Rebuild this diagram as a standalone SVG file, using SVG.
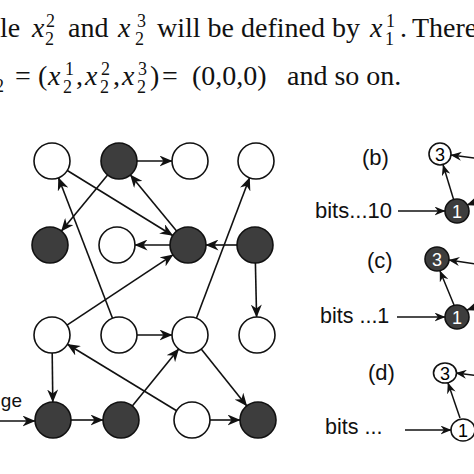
<svg xmlns="http://www.w3.org/2000/svg" width="474" height="474" viewBox="0 0 474 474">
<style>
.t{font-family:"Liberation Serif","Times New Roman",serif;font-size:28px;fill:#111}
.it{font-style:italic}
.s{font-size:18px}
.sans{font-family:"Liberation Sans",Arial,sans-serif;fill:#111}
.w{fill:#fff;stroke:#111;stroke-width:1.6}
.d{fill:#3d3d3d;stroke:#111;stroke-width:1.6}
.e{stroke:#111;stroke-width:1.6;fill:none;marker-end:url(#ah)}
.es{stroke:#111;stroke-width:1.5;fill:none;marker-end:url(#as)}
.nl{font-family:"Liberation Sans",Arial,sans-serif;font-size:18px;text-anchor:middle}
</style>
<defs>
<marker id="ah" viewBox="0 0 13 11" markerWidth="13" markerHeight="11" refX="12.5" refY="5.5" orient="auto" markerUnits="userSpaceOnUse"><path d="M0,0 L13,5.5 L0,11 L4,5.5 Z" fill="#111"/></marker>
<marker id="as" viewBox="0 0 11 9" markerWidth="11" markerHeight="9" refX="10.5" refY="4.5" orient="auto" markerUnits="userSpaceOnUse"><path d="M0,0 L11,4.5 L0,9 L3.5,4.5 Z" fill="#111"/></marker>
</defs>
<rect width="474" height="474" fill="#fff"/>

<g id="text-top">
<text class="t" x="0" y="37">le</text>
<text class="t it" x="32" y="37">x</text><text class="t s" x="46" y="27">2</text><text class="t s" x="45" y="45">2</text>
<text class="t" x="68" y="37">and</text>
<text class="t it" x="118" y="37">x</text><text class="t s" x="137" y="27">3</text><text class="t s" x="135" y="45">2</text>
<text class="t" x="157" y="37">will be defined by</text>
<text class="t it" x="370" y="37">x</text><text class="t s" x="386" y="27">1</text><text class="t s" x="385" y="45">1</text>
<text class="t" x="400" y="37">.</text>
<text class="t" x="412" y="37">There</text>

<text class="t s" x="-5" y="92">2</text>
<text class="t" x="15" y="85">=</text>
<text class="t" x="38" y="85">(</text>
<text class="t it" x="48" y="85">x</text><text class="t s" x="65" y="75">1</text><text class="t s" x="63" y="93">2</text>
<text class="t" x="76" y="85">,</text>
<text class="t it" x="85" y="85">x</text><text class="t s" x="101" y="75">2</text><text class="t s" x="100" y="93">2</text>
<text class="t" x="113" y="85">,</text>
<text class="t it" x="122" y="85">x</text><text class="t s" x="138" y="75">3</text><text class="t s" x="137" y="93">2</text>
<text class="t" x="150" y="85">)</text>
<text class="t" x="162" y="85">=</text>
<text class="t" x="192" y="85">(0,0,0)</text>
<text class="t" x="287" y="85">and so on.</text>
</g>

<g id="connectors">
<line class="e" x1="137" y1="161" x2="172" y2="161"/>
<line class="e" x1="67.3" y1="170.5" x2="172.7" y2="235.5"/>
<line class="e" x1="107.6" y1="174.9" x2="61.4" y2="231.1"/>
<line class="e" x1="176.6" y1="231.1" x2="130.4" y2="174.9"/>
<line class="e" x1="170" y1="245" x2="135" y2="245"/>
<line class="e" x1="237" y1="245" x2="206" y2="245"/>
<line class="e" x1="255.4" y1="263" x2="256.6" y2="317"/>
<line class="e" x1="196.4" y1="318.2" x2="249.6" y2="177.8"/>
<line class="e" x1="112.5" y1="318.2" x2="58.5" y2="177.8"/>
<line class="e" x1="67" y1="325.1" x2="173" y2="254.9"/>
<line class="e" x1="137" y1="335" x2="172" y2="335"/>
<line class="e" x1="52.2" y1="353" x2="52.8" y2="402"/>
<line class="e" x1="71" y1="420" x2="103" y2="420"/>
<line class="e" x1="132.3" y1="406" x2="178.7" y2="349"/>
<line class="e" x1="176.6" y1="410.7" x2="67.4" y2="344.3"/>
<line class="e" x1="201.2" y1="349.1" x2="246.8" y2="405.9"/>
<line class="e" x1="210" y1="420" x2="240" y2="420"/>
<line class="e" x1="0" y1="421" x2="35" y2="421"/>

<line class="es" x1="398" y1="211" x2="445" y2="211"/>
<line class="es" x1="453.6" y1="199.5" x2="443.1" y2="165"/>
<line class="es" x1="490" y1="160" x2="451" y2="155"/>
<line class="es" x1="495" y1="195" x2="467" y2="205"/>

<line class="es" x1="397" y1="317" x2="445" y2="317"/>
<line class="es" x1="454" y1="305" x2="440" y2="271"/>
<line class="es" x1="490" y1="266" x2="449" y2="260"/>
<line class="es" x1="495" y1="300" x2="467" y2="310"/>

<line class="es" x1="405" y1="430" x2="451" y2="430"/>
<line class="es" x1="460" y1="418" x2="448" y2="383"/>
<line class="es" x1="495" y1="378" x2="456" y2="373"/>
</g>

<g id="n-a1"><circle class="w" cx="52" cy="161" r="18"/></g>
<g id="n-a2"><circle class="d" cx="119" cy="161" r="18"/></g>
<g id="n-a3"><circle class="w" cx="190" cy="161" r="18"/></g>
<g id="n-a4"><circle class="w" cx="256" cy="161" r="18"/></g>
<g id="n-b1"><circle class="d" cx="50" cy="245" r="18"/></g>
<g id="n-b2"><circle class="w" cx="117" cy="245" r="18"/></g>
<g id="n-b3"><circle class="d" cx="188" cy="245" r="18"/></g>
<g id="n-b4"><circle class="d" cx="255" cy="245" r="18"/></g>
<g id="n-c1"><circle class="w" cx="52" cy="335" r="18"/></g>
<g id="n-c2"><circle class="w" cx="119" cy="335" r="18"/></g>
<g id="n-c3"><circle class="w" cx="190" cy="335" r="18"/></g>
<g id="n-c4"><circle class="w" cx="257" cy="335" r="18"/></g>
<g id="n-d1"><circle class="d" cx="53" cy="420" r="18"/></g>
<g id="n-d2"><circle class="d" cx="121" cy="420" r="18"/></g>
<g id="n-d3"><circle class="w" cx="192" cy="420" r="18"/></g>
<g id="n-d4"><circle class="d" cx="258" cy="420" r="18"/></g>
<text class="sans" x="22" y="407" font-size="19" text-anchor="end">ge</text>

<g id="panel-b">
<text class="sans" x="362" y="165" font-size="22">(b)</text>
<text class="sans" x="315" y="218" font-size="22">bits...10</text>
<g id="b-n3"><circle class="w" cx="440" cy="154" r="11"/><text class="nl" x="440" y="160.5">3</text></g>
<g id="b-n1"><circle class="d" cx="457" cy="211" r="12"/><text class="nl" x="457" y="217.5" fill="#fff">1</text></g>
</g>
<g id="panel-c">
<text class="sans" x="367" y="268" font-size="22">(c)</text>
<text class="sans" x="320" y="323" font-size="21.5">bits ...1</text>
<g id="c-n3"><circle class="d" cx="437" cy="259" r="12"/><text class="nl" x="437" y="265.5" fill="#fff">3</text></g>
<g id="c-n1"><circle class="d" cx="457" cy="317" r="12"/><text class="nl" x="457" y="323.5" fill="#fff">1</text></g>
</g>
<g id="panel-d">
<text class="sans" x="368" y="380" font-size="22">(d)</text>
<text class="sans" x="325" y="434" font-size="21.5">bits ...</text>
<g id="d-n3"><ellipse class="w" cx="445" cy="373" rx="11.5" ry="10"/><text class="nl" x="445" y="379.5">3</text></g>
<g id="d-n1"><ellipse class="w" cx="463" cy="430" rx="12" ry="11"/><text class="nl" x="463" y="436.5">1</text></g>
</g>
</svg>
